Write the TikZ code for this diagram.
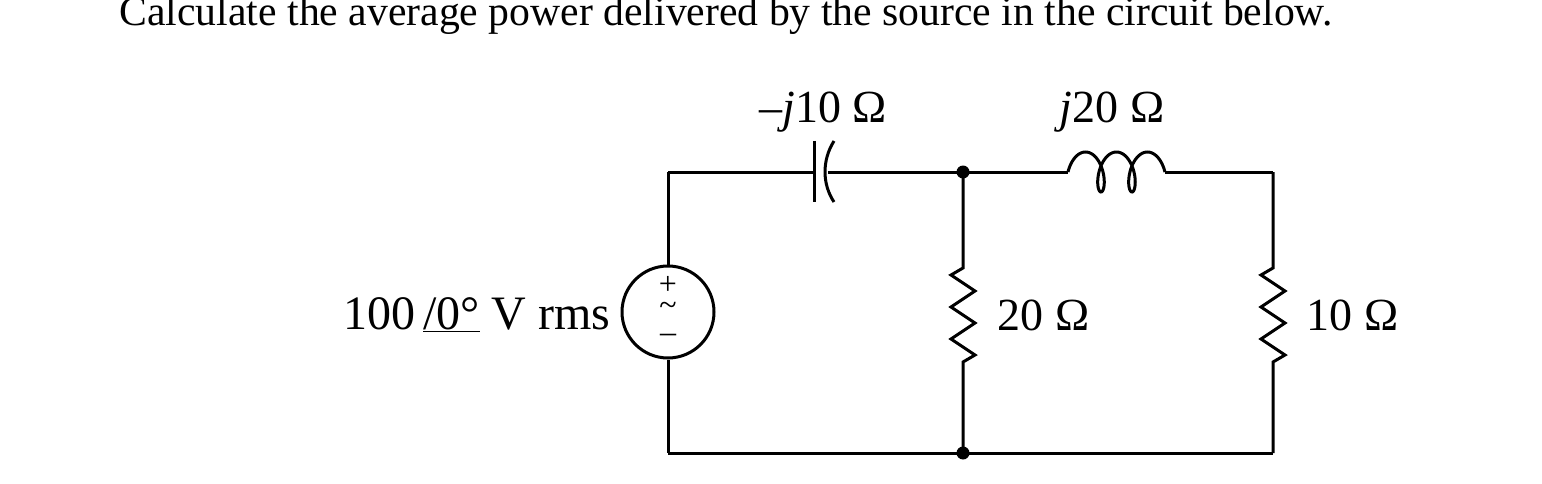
\documentclass[tikz,border=0pt]{standalone}
\usepackage{fontspec}
\setmainfont{Liberation Serif}
\begin{document}
\begin{tikzpicture}[x=1pt,y=-1pt,line width=3pt,
  lbl/.style={font=\fontsize{46}{48}\selectfont,inner sep=0pt},
  sym/.style={font=\fontsize{32}{32}\selectfont,inner sep=0pt},
  dot/.style={circle,fill,inner sep=0pt,minimum size=13pt}]
\useasboundingbox (0,0) rectangle (1542,484);
\node[anchor=base west,inner sep=0pt,font=\fontsize{41.7}{44}\selectfont] (title) at (118,26) {Calculate the average power delivered by the source in the circuit below.};
% coordinates
\coordinate (tl) at (668,172); \coordinate (bl) at (668,453);
\coordinate (tm) at (963,172); \coordinate (bm) at (963,453);
\coordinate (tr) at (1273,172); \coordinate (br) at (1273,453);
\coordinate (c1) at (814,172); \coordinate (c2) at (828,172);
\coordinate (l1) at (1068,172); \coordinate (l2) at (1165,172);
% source
\node[circle,draw,minimum size=92pt,inner sep=0pt] (src) at (668,312) {};
\draw (tl) -- (src.north);
\draw (src.south) -- (bl);
\node[sym] (plus) at (668,285) {+};
\node[sym] (tilde) at (668,309) {\textasciitilde};
\node[sym] (minus) at (668,338) {\textendash};
\node[lbl,anchor=east,font=\fontsize{48}{50}\selectfont] (vs) at (612,315) {100\,\underline{/0°} V rms};
% top wires and capacitor
\draw (tl) -- (c1);
\draw (814,141) -- (814,202);
\draw (834,141) .. controls (822,160) and (822,184) .. (834,202);
\draw (c2) -- (tm) -- (l1);
\node[lbl] (clab) at (823,112) {\textendash\textit{j}10 Ω};
% inductor
\draw plot[domain=0:15.708,samples=200,variable=\t]
  ({1068 + 9.75 + 4.93*\t - 9.75*cos(\t r)},{172 - 20*sin(\t r)});
\draw (l2) -- (tr);
\node[lbl] (llab) at (1112,112) {\textit{j}20 Ω};
% resistors
\draw (tm) -- (963,268) -- (951,275) -- (975,291) -- (951,307) -- (975,323) -- (951,339) -- (975,355) -- (963,362) -- (bm);
\draw (tr) -- (1273,268) -- (1261,275) -- (1285,291) -- (1261,307) -- (1285,323) -- (1261,339) -- (1285,355) -- (1273,362) -- (br);
\node[lbl,anchor=west] (r1) at (996,315) {20 Ω};
\node[lbl,anchor=west] (r2) at (1305,315) {10 Ω};
% bottom
\draw (bl) -- (bm) -- (br);
\node[dot] (d1) at (tm) {};
\node[dot] (d2) at (bm) {};
\end{tikzpicture}
\end{document}
